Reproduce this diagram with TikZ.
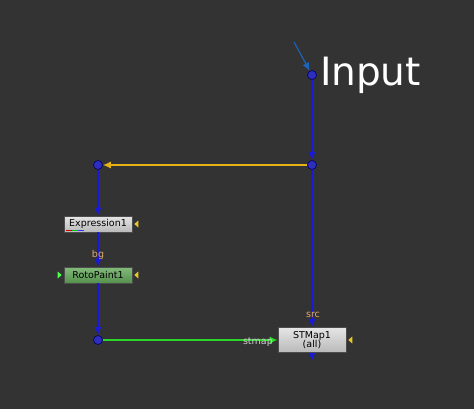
\documentclass[tikz,border=0pt]{standalone}
\usepackage{fontspec}
\setmainfont{DejaVu Sans}
\usetikzlibrary{calc,positioning,arrows.meta}
\definecolor{bgdark}{RGB}{51,51,51}
\definecolor{pipeblue}{RGB}{25,25,215}
\definecolor{dotblue}{RGB}{45,45,190}
\definecolor{pipeyellow}{RGB}{232,178,20}
\definecolor{pipegreen}{RGB}{40,215,40}
\definecolor{pinorange}{RGB}{225,170,110}
\definecolor{tipyellow}{RGB}{230,200,40}
\definecolor{rotogreen}{RGB}{100,170,90}
\definecolor{ptrblue}{RGB}{30,100,190}

\begin{document}
\begin{tikzpicture}[
    x=1pt,y=-1pt,
    >={Latex[length=8,width=7]},
    dot/.style={circle,draw=black!60!blue,fill=dotblue,line width=0.6,minimum size=9,inner sep=0},
    nodebox/.style={draw=black!70,line width=0.6,minimum width=68,minimum height=16,inner sep=1,
      top color=gray!20,bottom color=gray!55,font=\fontsize{9.5}{10.5}\selectfont,text=black,align=center},
    roto box/.style={nodebox,top color=rotogreen!80!white,bottom color=rotogreen!85!black},
    bluepipe/.style={->,color=pipeblue,line width=1.4},
    yellowpipe/.style={->,color=pipeyellow,line width=1.4},
    greenpipe/.style={->,color=pipegreen,line width=1.4},
    pinlbl/.style={font=\fontsize{9.5}{10.5}\selectfont,text=pinorange,inner sep=0}
    ]
% BACKGROUND
\fill[bgdark] (0,0) rectangle (474,409);
\useasboundingbox (0,0) rectangle (474,409);

% DOTS AND NODES
\node[dot] (in) at (312,75) {};
\node[right=3 of in,inner sep=0,text=white,font=\fontsize{39}{40}\selectfont] (inlbl) {Input};
\node[dot] (dtop) at (312,165) {};
\node[dot] (dleft) at (98,165) {};
\node[nodebox] (expr) at (98,224) {Expression1};
\node[roto box] (roto) at (98,275) {RotoPaint1};
\node[dot] (dbot) at (98,340) {};
\node[nodebox,minimum height=25,inner sep=0] (stmap) at (312,340) {STMap1\\[-1pt](all)};
\coordinate (ptr) at (294,42);
\coordinate (out) at (312,361);

% CHANNEL BARS
\fill[red!85!black] ($(expr.south west)+(2,-2.5)$) rectangle ++(6,1.5);
\fill[green!75!black] ($(expr.south west)+(8,-2.5)$) rectangle ++(6,1.5);
\fill[blue!80!white] ($(expr.south west)+(14,-2.5)$) rectangle ++(6,1.5);

% SIDE TRIANGLES
\foreach \n in {expr,roto,stmap}{
  \fill[tipyellow] ($(\n.east)+(6,-3.5)$) -- ++(0,7) -- ++(-4,-3.5) -- cycle;
}
\fill[green!70!white] ($(roto.west)+(-6,-3.5)$) -- ++(0,7) -- ++(4,-3.5) -- cycle;

% PIPES
\draw[->,color=ptrblue,line width=1.1] (ptr) -- (in);
\draw[bluepipe] (in) -- (dtop);
\draw[yellowpipe] (dtop) -- (dleft);
\draw[bluepipe] (dleft) -- (expr);
\draw[bluepipe] (expr) -- (roto);
\draw[bluepipe] (roto) -- (dbot);
\draw[greenpipe] (dbot) -- (stmap);
\draw[bluepipe] (dtop) -- (stmap);
\draw[bluepipe] (stmap) -- (out);

% PIN LABELS
\node[pinlbl] (bglbl) at (98,255) {bg};
\node[pinlbl] (srclbl) at (313,315) {src};
\node[pinlbl,text=gray!35,anchor=east] (stmaplbl) at (273,342) {stmap};
\end{tikzpicture}
\end{document}
